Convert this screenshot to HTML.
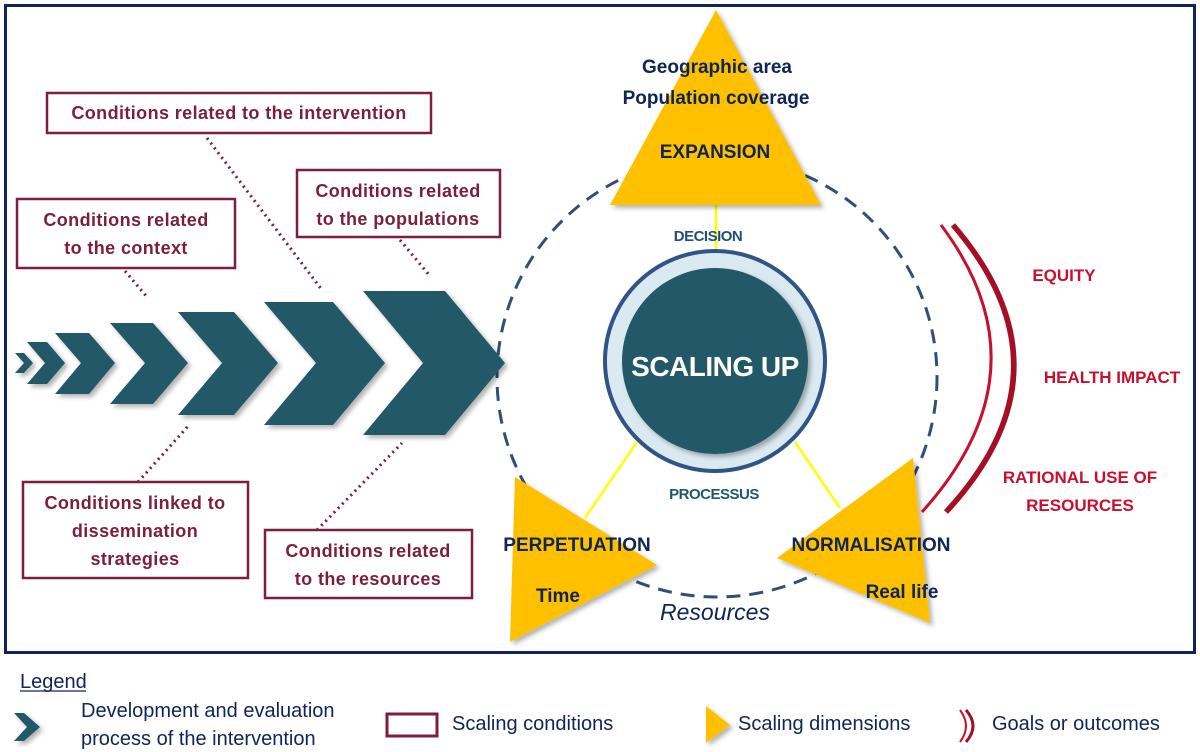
<!DOCTYPE html>
<html><head><meta charset="utf-8"><style>
body{margin:0;background:#fff}
svg{display:block}
text{font-family:"Liberation Sans",sans-serif}
</style></head><body>
<svg width="1200" height="752" viewBox="0 0 1200 752" xmlns="http://www.w3.org/2000/svg">
<defs>
<filter id="sh" x="-20%" y="-20%" width="140%" height="140%"><feDropShadow dx="3" dy="3" stdDeviation="2.5" flood-color="#000" flood-opacity="0.3"/></filter>
</defs>
<rect x="0" y="0" width="1200" height="752" fill="#fff"/>
<rect x="5.5" y="5.5" width="1189" height="647" fill="none" stroke="#0f2459" stroke-width="3"/>

<circle cx="717" cy="377" r="220" fill="none" stroke="#2f4f7a" stroke-width="3" stroke-dasharray="14,9"/>

<g fill="#215868" filter="url(#sh)">
<polygon points="15,353 24,353 33,363 24,373 15,373 24,363"/>
<polygon points="27,342 47,342 65,363 47,384 27,384 45,363"/>
<polygon points="55,333 89,333 115,363 89,394 55,394 81,363"/>
<polygon points="110,323 153,323 188,363 153,404 110,404 145,363"/>
<polygon points="178,312 234,312 278,363 234,415 178,415 222,363"/>
<polygon points="264,302 333,302 385,363 333,425 264,425 316,363"/>
<polygon points="363,291 445,291 505,363 445,435 363,435 423,363"/>
</g>

<g stroke="#7b1f3a" stroke-width="3" stroke-dasharray="2,4" fill="none">
<line x1="207" y1="138" x2="322" y2="290"/>
<line x1="125" y1="271" x2="147" y2="297"/>
<line x1="400" y1="240" x2="430" y2="276"/>
<line x1="138" y1="482" x2="190" y2="424"/>
<line x1="317" y1="530" x2="402" y2="443"/>
</g>

<g fill="#fff" stroke="#7b1f3a" stroke-width="2.5">
<rect x="47" y="93" width="384" height="40"/>
<rect x="17" y="199" width="218" height="69"/>
<rect x="297" y="170" width="203" height="67"/>
<rect x="23" y="482" width="225" height="96"/>
<rect x="265" y="530" width="207" height="68"/>
</g>
<g fill="#7b1f3a" font-weight="bold" font-size="18" text-anchor="middle" letter-spacing="0.4">
<text x="239" y="119">Conditions  related to the intervention</text>
<text x="126" y="226">Conditions  related</text>
<text x="126" y="254">to the context</text>
<text x="398" y="197">Conditions  related</text>
<text x="398" y="225">to the populations</text>
<text x="135" y="509">Conditions  linked to</text>
<text x="135" y="537">dissemination</text>
<text x="135" y="565">strategies</text>
<text x="368" y="557">Conditions  related</text>
<text x="368" y="585">to the resources</text>
</g>

<g stroke="#ffff00" stroke-width="2.5">
<line x1="716" y1="205" x2="716" y2="253"/>
<line x1="637" y1="442" x2="585" y2="518"/>
<line x1="795" y1="442" x2="840" y2="508"/>
</g>

<g fill="#ffc000" filter="url(#sh)">
<polygon points="716,10 821,205 610,205"/>
<polygon points="515,477 657,565 510,642"/>
<polygon points="913,458 777,558 930,623"/>
</g>

<circle cx="715" cy="361" r="110" fill="#dbe9f1" stroke="#2f5485" stroke-width="4"/>
<circle cx="715" cy="361" r="93" fill="#215868" filter="url(#sh)"/>
<text x="715" y="376" fill="#fff" font-weight="bold" font-size="28" text-anchor="middle" letter-spacing="-0.5">SCALING UP</text>

<path d="M941,225 Q1050,370 922,512" fill="none" stroke="#c8102e" stroke-width="3"/>
<path d="M953,225 Q1078,370 946,512" fill="none" stroke="#a50f25" stroke-width="5.5"/>

<g fill="#0f2459" font-weight="bold" text-anchor="middle">
<text x="717" y="73" font-size="19">Geographic area</text>
<text x="716" y="104" font-size="19">Population coverage</text>
<text x="715" y="158" font-size="19">EXPANSION</text>
<text x="577" y="551" font-size="19">PERPETUATION</text>
<text x="558" y="602" font-size="19">Time</text>
<text x="871" y="551" font-size="19">NORMALISATION</text>
<text x="902" y="598" font-size="19">Real life</text>
</g>
<text x="708" y="241" fill="#1f4e79" font-weight="bold" font-size="15" text-anchor="middle" letter-spacing="-0.5">DECISION</text>
<text x="714" y="499" fill="#215868" font-weight="bold" font-size="15" text-anchor="middle" letter-spacing="-0.5">PROCESSUS</text>
<text x="715" y="620" fill="#0f2459" font-style="italic" font-size="23" text-anchor="middle">Resources</text>

<g fill="#c8102e" font-weight="bold" font-size="17" text-anchor="middle">
<text x="1064" y="281">EQUITY</text>
<text x="1112" y="383">HEALTH  IMPACT</text>
<text x="1080" y="483">RATIONAL USE OF</text>
<text x="1080" y="511">RESOURCES</text>
</g>

<g fill="#0f2459" font-size="20">
<text x="20" y="688">Legend</text>
<line x1="20" y1="691" x2="86" y2="691" stroke="#0f2459" stroke-width="1.2"/>
<text x="81" y="717">Development  and evaluation</text>
<text x="81" y="745">process of the intervention</text>
<text x="452" y="730">Scaling conditions</text>
<text x="738" y="730">Scaling dimensions</text>
<text x="992" y="730">Goals or outcomes</text>
</g>
<polygon points="14,713 24,713 40,727 24,741 14,741 27,727" fill="#215868" filter="url(#sh)"/>
<rect x="387" y="714" width="50" height="22" fill="#fff" stroke="#7b1f3a" stroke-width="3"/>
<polygon points="706,706 730,725 706,743" fill="#ffc000" filter="url(#sh)"/>
<path d="M960,710 Q972,726 960,742" fill="none" stroke="#c8102e" stroke-width="2"/>
<path d="M966,710 Q980,726 966,742" fill="none" stroke="#a50f25" stroke-width="3"/>
</svg>
</body></html>
